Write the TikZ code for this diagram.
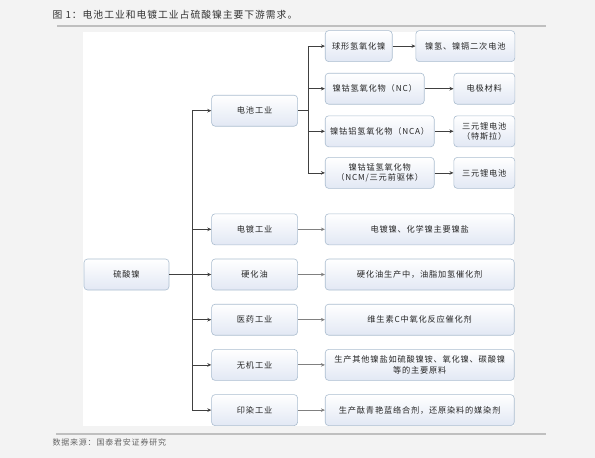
\documentclass[tikz,border=0pt]{standalone}
\usepackage{fontspec}
\setmainfont{Noto Sans CJK SC}[LetterSpace=10]
\usetikzlibrary{arrows.meta,positioning}

\begin{document}
\begin{tikzpicture}[
  x=1pt, y=-1pt,
  font=\fontsize{8.2}{10.5}\selectfont,
  node distance=13.6pt and 27pt,
  >=Stealth,
  box/.style={rectangle, rounded corners=3.5pt, draw=boxedge, line width=0.6pt,
    top color=white, bottom color=boxfill, inner sep=2pt, minimum height=31pt,
    align=center, text=black!85},
  lvone/.style={box, minimum width=86pt},
  wide/.style={box, minimum width=189pt},
  line/.style={draw=black!75, line width=0.7pt},
  arrow/.style={line, -{Stealth[length=4pt,width=3.6pt]}},
  farrow/.style={arrow, draw=black!50, line width=0.9pt},
  rule/.style={draw=black!25, line width=1.2pt}
]

% --- Colour palette ---
\definecolor{pagegray}{RGB}{243,243,243}
\definecolor{boxedge}{RGB}{172,190,208}
\definecolor{boxfill}{RGB}{226,232,244}

% --- Page and white panel ---
\useasboundingbox (0,0) rectangle (595,458);
\fill[pagegray] (0,0) rectangle (595,458);
\fill[white] (83,32) rectangle (514,426);

% --- Caption and source ---
\node[anchor=west, font=\fontsize{9.8}{11}\selectfont, text=black!80] (title) at (49,15)
  {图 1：电池工业和电镀工业占硫酸镍主要下游需求。};
\draw[rule] (57,26) -- (546,26);
\draw[rule] (56,434) -- (546,434);
\node[anchor=west, font=\fontsize{8}{10}\selectfont, text=black!60] (source) at (49,442)
  {数据来源：国泰君安证券研究};

% --- Root ---
\node[box, minimum width=85pt] (nickel) at (126.5,274.5) {硫酸镍};

% --- First level: industries ---
\node[lvone, right=42pt of nickel] (oil) {硬化油};
\node[lvone, above=of oil] (plating) {电镀工业};
\node[lvone, below=of oil] (pharma) {医药工业};
\node[lvone, below=of pharma] (inorg) {无机工业};
\node[lvone, below=of inorg] (dye) {印染工业};
\node[lvone, above=87pt of plating] (battery) {电池工业};

% --- Uses of the other industries ---
\node[wide, right=of plating] (platinguse) {电镀镍、化学镍主要镍盐};
\node[wide, right=of oil] (oiluse) {硬化油生产中，油脂加氢催化剂};
\node[wide, right=of pharma] (pharmause) {维生素C中氧化反应催化剂};
\node[wide, right=of inorg] (inorguse) {生产其他镍盐如硫酸镍铵、氧化镍、碳酸镍\\等的主要原料};
\node[wide, right=of dye] (dyeuse) {生产酞青艳蓝络合剂，还原染料的媒染剂};

% --- Battery branch ---
\node[box, minimum width=99pt, right=27pt of battery, yshift=22pt] (nc) {镍钴氢氧化物（NC）};
\node[box, minimum width=67pt, above=11pt of nc.north west, anchor=south west] (sphere) {球形氢氧化镍};
\node[box, minimum width=109pt, below=11pt of nc.south west, anchor=north west] (nca) {镍钴铝氢氧化物（NCA）};
\node[box, minimum width=109pt, below=10pt of nca.south west, anchor=north west] (ncm) {镍钴锰氢氧化物\\（NCM/三元前驱体）};

\node[box, minimum width=99pt, right=23pt of sphere] (nimh) {镍氢、镍镉二次电池};
\node[box, minimum width=61pt, right=29pt of nc] (electrode) {电极材料};
\node[box, minimum width=61pt, right=19pt of nca] (tesla) {三元锂电池\\（特斯拉）};
\node[box, minimum width=61pt, right=19pt of ncm] (ternary) {三元锂电池};

% --- Trunk from the root ---
\coordinate[right=23pt of nickel] (trunk);
\draw[line] (nickel) -- (trunk);
\draw[line] (trunk |- battery.west) -- (trunk |- dye.west);
\foreach \n in {battery,plating,oil,pharma,inorg,dye}
  \draw[arrow] (trunk |- \n.west) -- (\n.west);

\foreach \a/\b in {plating/platinguse,oil/oiluse,pharma/pharmause,inorg/inorguse,dye/dyeuse}
  \draw[farrow] (\a) -- (\b);

% --- Split of the battery branch ---
\coordinate[right=10pt of battery] (split);
\draw[line] (battery) -- (split);
\draw[line] (split |- sphere.west) -- (split |- ncm.west);
\foreach \n in {sphere,nc,nca,ncm}
  \draw[arrow] (split |- \n.west) -- (\n.west);

\foreach \a/\b in {sphere/nimh,nc/electrode,nca/tesla,ncm/ternary}
  \draw[arrow] (\a) -- (\b);

\end{tikzpicture}
\end{document}
